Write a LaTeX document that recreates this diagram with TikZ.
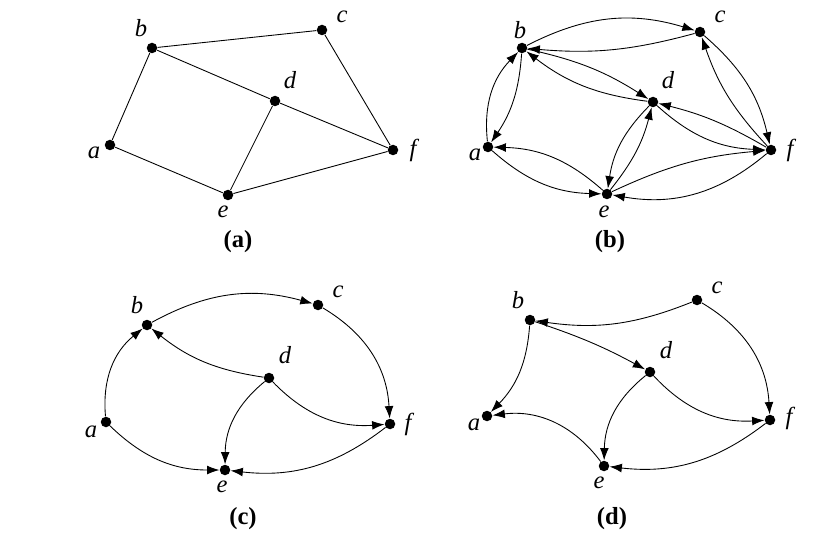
\documentclass[tikz,border=0pt]{standalone}
\usepackage{fontspec}
\setmainfont{Liberation Serif}
\usetikzlibrary{arrows.meta}
\begin{document}
\begin{tikzpicture}[x=0.02cm,y=-0.02cm,
  vtx/.style={circle,fill=black,inner sep=0pt,minimum size=0.21cm},
  lbl/.style={font=\fontsize{14}{16}\selectfont\itshape},
  captxt/.style={font=\fontsize{14}{16}\selectfont\bfseries},
  edge/.style={line width=0.5pt},
  arr/.style={line width=0.5pt,-{Latex[length=7pt,width=5pt]}}]
\useasboundingbox (0,0) rectangle (820,550);
% panel a
\node[vtx] (ab) at (152,48) {}; \node[lbl] (abl) at (141,28) {b};
\node[vtx] (ac) at (322,30) {}; \node[lbl] (acl) at (342,17) {c};
\node[vtx] (ad) at (275,101) {}; \node[lbl] (adl) at (290,80) {d};
\node[vtx] (aa) at (110,145) {}; \node[lbl] (aal) at (94,153) {a};
\node[vtx] (ae) at (228,195) {}; \node[lbl] (ael) at (223,212) {e};
\node[vtx] (af) at (393,150) {}; \node[lbl] (afl) at (413,150) {f};
\draw[edge] (ab)--(ac) (ab)--(aa) (ab)--(ad) (ad)--(af) (ac)--(af) (ad)--(ae) (aa)--(ae) (ae)--(af);
\node[captxt] (capa) at (238,242) {(a)};
% panel b
\node[vtx] (bb) at (522,48) {}; \node[lbl] (bbl) at (520,30) {b};
\node[vtx] (bc) at (700,32) {}; \node[lbl] (bcl) at (720,17) {c};
\node[vtx] (bd) at (653,102) {}; \node[lbl] (bdl) at (668,80) {d};
\node[vtx] (ba) at (488,147) {}; \node[lbl] (bal) at (475,155) {a};
\node[vtx] (be) at (607,194) {}; \node[lbl] (bel) at (604,212) {e};
\node[vtx] (bf) at (771,150) {}; \node[lbl] (bfl) at (790,150) {f};
\foreach \u/\v/\k in {bb/bc/22,bc/bb/10,bc/bf/18,bf/bc/12,bb/bd/10,bd/bb/15,bb/ba/15,ba/bb/25,be/bf/10,bf/be/25}
  \draw[arr] (\u) to[bend left=\k] (\v);
\foreach \u/\v/\k in {bd/bf/20,bf/bd/8,bd/be/18,be/bd/12,ba/be/20,be/ba/20}
  \draw[arr] (\u) to[bend right=\k] (\v);
\node[captxt] (capb) at (610,242) {(b)};
% panel c
\node[vtx] (cb) at (147,325) {}; \node[lbl] (cbl) at (137,305) {b};
\node[vtx] (cc) at (318,305) {}; \node[lbl] (ccl) at (338,292) {c};
\node[vtx] (cd) at (269,378) {}; \node[lbl] (cdl) at (285,355) {d};
\node[vtx] (ca) at (106,422) {}; \node[lbl] (cal) at (91,432) {a};
\node[vtx] (ce) at (225,470) {}; \node[lbl] (cel) at (222,487) {e};
\node[vtx] (cf) at (390,424) {}; \node[lbl] (cfl) at (408,424) {f};
\draw[arr] (cb) to[bend left=22] (cc);
\draw[arr] (cc) to[bend left=28] (cf);
\draw[arr] (ca) to[bend left=28] (cb);
\draw[arr] (cd) to[bend left=15] (cb);
\draw[arr] (cd) to[bend right=25] (ce);
\draw[arr] (cd) to[bend right=25] (cf);
\draw[arr] (ca) to[bend right=22] (ce);
\draw[arr] (cf) to[bend left=22] (ce);
\node[captxt] (capc) at (243,519) {(c)};
% panel d
\node[vtx] (db) at (530,320) {}; \node[lbl] (dbl) at (518,300) {b};
\node[vtx] (dc) at (697,300) {}; \node[lbl] (dcl) at (717,288) {c};
\node[vtx] (dd) at (650,372) {}; \node[lbl] (ddl) at (666,350) {d};
\node[vtx] (da) at (487,416) {}; \node[lbl] (dal) at (474,425) {a};
\node[vtx] (de) at (604,466) {}; \node[lbl] (del) at (599,483) {e};
\node[vtx] (df) at (770,420) {}; \node[lbl] (dfl) at (789,418) {f};
\draw[arr] (dc) to[bend left=15] (db);
\draw[arr] (dc) to[bend left=28] (df);
\draw[arr] (db) to[bend left=5] (dd);
\draw[arr] (db) to[bend left=20] (da);
\draw[arr] (dd) to[bend right=25] (de);
\draw[arr] (dd) to[bend right=25] (df);
\draw[arr] (de) to[bend right=30] (da);
\draw[arr] (df) to[bend left=22] (de);
\node[captxt] (capd) at (612,519) {(d)};
\end{tikzpicture}
\end{document}
